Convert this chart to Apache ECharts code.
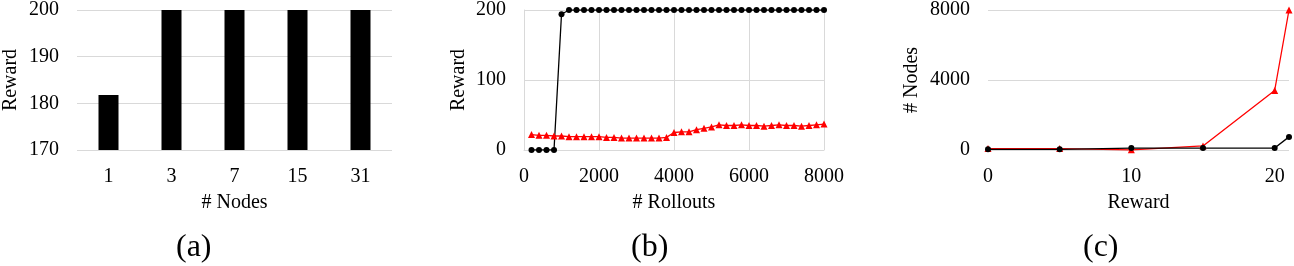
<!DOCTYPE html>
<html>
<head>
<meta charset="utf-8">
<script src="https://cdn.jsdelivr.net/npm/echarts@6/dist/echarts.min.js"></script>
<style>
  html, body { margin: 0; padding: 0; background: #fff; }
  #main { width: 1294px; height: 266px; }
</style>
</head>
<body>
<div id="main"></div>
<script>
// (a) reward vs number of nodes
var nodeCats = ["1", "3", "7", "15", "31"];
var nodeReward = [181.8, 200, 200, 200, 200];

// (b) reward vs rollouts
var rollouts = [200, 400, 600, 800, 1000, 1200, 1400, 1600, 1800, 2000,
  2200, 2400, 2600, 2800, 3000, 3200, 3400, 3600, 3800, 4000,
  4200, 4400, 4600, 4800, 5000, 5200, 5400, 5600, 5800, 6000,
  6200, 6400, 6600, 6800, 7000, 7200, 7400, 7600, 7800, 8000];
var rewardBlack = [0, 0, 0, 0, 194, 200, 200, 200, 200, 200,
  200, 200, 200, 200, 200, 200, 200, 200, 200, 200,
  200, 200, 200, 200, 200, 200, 200, 200, 200, 200,
  200, 200, 200, 200, 200, 200, 200, 200, 200, 200];
var rewardRed = [22, 21, 21, 20, 20, 19, 19, 19, 19, 19,
  18, 18, 17, 17, 17, 17, 17, 17, 18, 25,
  26, 26, 29, 31, 33, 36, 35, 35, 36, 35,
  35, 34, 35, 36, 35, 35, 34, 35, 36, 37];

// (c) number of nodes vs reward
var rewardLevels = [0, 5, 10, 15, 20, 21];
var nodesBlack = [40, 40, 110, 110, 110, 750];
var nodesRed = [80, 80, 10, 230, 3400, 8000];

var font = "Liberation Serif";
var gridColor = "#d9d9d9";
var txt = { color: "#000", fontFamily: font, fontSize: 20 };

function plain(v) {
  return String(v); // no thousand separators
}

function pairs(xs, ys) {
  return xs.map(function(x, i) {
    return [x, ys[i]];
  });
}

function yAx(idx, name, min, max, interval, gap) {
  return {
    gridIndex: idx,
    type: "value",
    min: min,
    max: max,
    interval: interval,
    name: name,
    nameLocation: "middle",
    nameGap: gap,
    nameTextStyle: txt,
    axisLine: { show: false },
    axisTick: { show: false },
    axisLabel: Object.assign({ margin: 18, formatter: plain }, txt),
    splitLine: { show: true, lineStyle: { color: gridColor, width: 1 } }
  };
}

var myChart = echarts.init(document.getElementById("main"), null, { renderer: "canvas" });

var option = {
  animation: false,
  backgroundColor: "#fff",
  grid: [
    { left: 70, top: 7, width: 322, height: 143 },
    { left: 524, top: 7, width: 300, height: 143 },
    { left: 988, top: 7, width: 301, height: 143 }
  ],
  xAxis: [
    {
      gridIndex: 0,
      type: "category",
      data: nodeCats,
      name: "# Nodes",
      nameLocation: "middle",
      nameGap: 43,
      nameTextStyle: txt,
      axisLine: { show: false },
      axisTick: { show: false },
      axisLabel: Object.assign({ margin: 17 }, txt)
    },
    {
      gridIndex: 1,
      type: "value",
      min: 0,
      max: 8000,
      interval: 2000,
      name: "# Rollouts",
      nameLocation: "middle",
      nameGap: 43,
      nameTextStyle: txt,
      axisLine: { show: true, lineStyle: { color: gridColor } },
      axisTick: { show: false },
      axisLabel: Object.assign({ margin: 17, formatter: plain }, txt),
      splitLine: { show: true, lineStyle: { color: gridColor, width: 1 } }
    },
    {
      gridIndex: 2,
      type: "value",
      min: 0,
      max: 21,
      interval: 10,
      name: "Reward",
      nameLocation: "middle",
      nameGap: 43,
      nameTextStyle: txt,
      axisLine: { show: false },
      axisTick: { show: false },
      axisLabel: Object.assign({ margin: 17, showMaxLabel: false, formatter: plain }, txt),
      splitLine: { show: false }
    }
  ],
  yAxis: [
    yAx(0, "Reward", 170, 200, 10, 56),
    Object.assign(yAx(1, "Reward", 0, 200, 100, 55), {
      axisLine: { show: true, lineStyle: { color: gridColor } }
    }),
    yAx(2, "# Nodes", 0, 8000, 4000, 66)
  ],
  graphic: [
    { type: "text", left: 176, top: 232, style: { text: "(a)", fill: "#000", font: "32px 'Liberation Serif'" } },
    { type: "text", left: 631, top: 232, style: { text: "(b)", fill: "#000", font: "32px 'Liberation Serif'" } },
    { type: "text", left: 1083, top: 232, style: { text: "(c)", fill: "#000", font: "32px 'Liberation Serif'" } }
  ],
  series: [
    {
      type: "bar",
      xAxisIndex: 0,
      yAxisIndex: 0,
      barWidth: 20,
      itemStyle: { color: "#000" },
      data: nodeReward
    },
    {
      name: "red",
      type: "line",
      xAxisIndex: 1,
      yAxisIndex: 1,
      symbol: "triangle",
      symbolSize: 7,
      lineStyle: { color: "#ff0000", width: 1.3 },
      itemStyle: { color: "#ff0000" },
      data: pairs(rollouts, rewardRed)
    },
    {
      name: "black",
      type: "line",
      xAxisIndex: 1,
      yAxisIndex: 1,
      symbol: "circle",
      symbolSize: 6,
      lineStyle: { color: "#000", width: 1.3 },
      itemStyle: { color: "#000" },
      data: pairs(rollouts, rewardBlack)
    },
    {
      name: "red",
      type: "line",
      xAxisIndex: 2,
      yAxisIndex: 2,
      symbol: "triangle",
      symbolSize: 7,
      clip: false,
      lineStyle: { color: "#ff0000", width: 1.3 },
      itemStyle: { color: "#ff0000" },
      data: pairs(rewardLevels, nodesRed)
    },
    {
      name: "black",
      type: "line",
      xAxisIndex: 2,
      yAxisIndex: 2,
      symbol: "circle",
      symbolSize: 6,
      clip: false,
      lineStyle: { color: "#000", width: 1.3 },
      itemStyle: { color: "#000" },
      data: pairs(rewardLevels, nodesBlack)
    }
  ]
};

myChart.setOption(option);
</script>
</body>
</html>
